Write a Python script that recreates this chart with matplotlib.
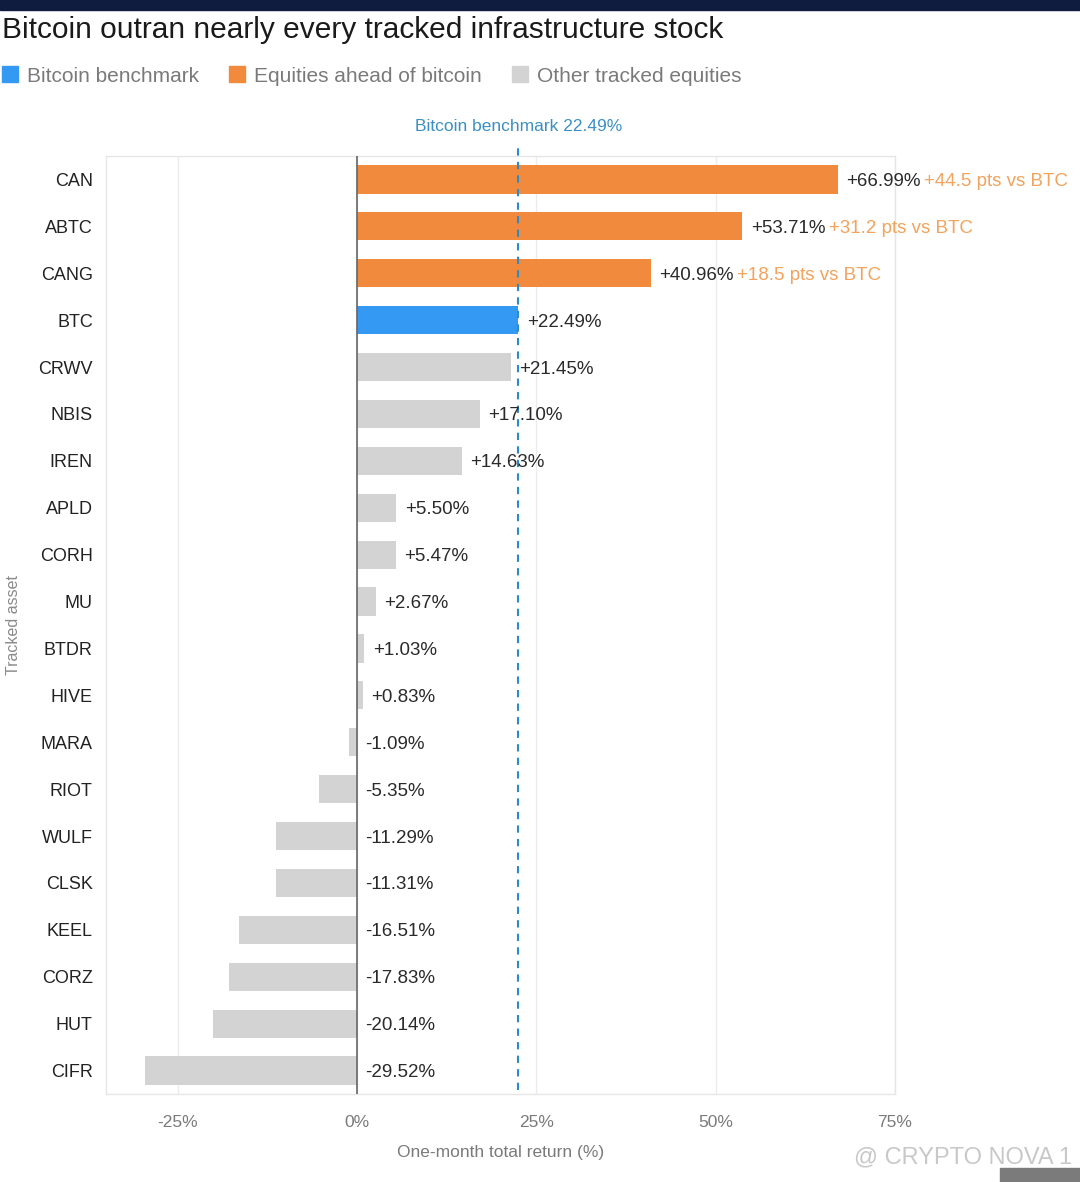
import matplotlib
matplotlib.use("Agg")
import matplotlib.pyplot as plt
from matplotlib.patches import Rectangle

plt.rcParams['font.family'] = ['Liberation Sans', 'DejaVu Sans']

tickers = ["CAN", "ABTC", "CANG", "BTC", "CRWV", "NBIS", "IREN", "APLD", "CORH", "MU",
           "BTDR", "HIVE", "MARA", "RIOT", "WULF", "CLSK", "KEEL", "CORZ", "HUT", "CIFR"]
returns = [66.99, 53.71, 40.96, 22.49, 21.45, 17.10, 14.63, 5.50, 5.47, 2.67,
           1.03, 0.83, -1.09, -5.35, -11.29, -11.31, -16.51, -17.83, -20.14, -29.52]
groups = ["ahead", "ahead", "ahead", "btc"] + ["other"] * 16
vs_btc = ["+44.5 pts vs BTC", "+31.2 pts vs BTC", "+18.5 pts vs BTC"] + [""] * 17
benchmark = 22.49
xticks = [-25, 0, 25, 50, 75]
xtick_labels = ["-25%", "0%", "25%", "50%", "75%"]
legend_labels = ["Bitcoin benchmark", "Equities ahead of bitcoin", "Other tracked equities"]

colors = {"btc": "#3399F2", "ahead": "#F28A3D", "other": "#D3D3D3"}
extra_color = "#F2A35E"

fig = plt.figure(figsize=(10.8, 11.82), dpi=100)
ax = fig.add_axes([106/1080, 1-1094/1182, (895-106)/1080, (1094-156)/1182])

ypos = list(range(len(tickers)))
ax.barh(ypos, returns, height=0.6, color=[colors[g] for g in groups], zorder=2)
ax.set_xlim(-35, 75)
ax.set_ylim(len(tickers)-0.5, -0.5)
ax.set_yticks(ypos)
ax.set_yticklabels(tickers, fontsize=13, color="#222222")
ax.set_xticks(xticks)
ax.set_xticklabels(xtick_labels, fontsize=12.5, color="#7a7a7a")
ax.tick_params(axis='both', length=0)
ax.tick_params(axis='x', pad=15)
ax.tick_params(axis='y', pad=9.5)
for lab in ax.get_yticklabels():
    lab.set_va('center_baseline')
for s in ax.spines.values():
    s.set_color("#e6e6e6")
    s.set_linewidth(1)
ax.grid(axis='x', color="#ececec", linewidth=1, zorder=0)
ax.axvline(0, color="#666666", linewidth=1.2, zorder=3)
ax.axvline(benchmark, ymin=0.004, ymax=1.012, color="#2B8BC9", linestyle=(0, (3.5, 3)),
           linewidth=1.5, zorder=4, clip_on=False)
ax.annotate(f"Bitcoin benchmark {benchmark:.2f}%", xy=(benchmark, 1), xycoords=('data', 'axes fraction'),
            xytext=(0, 22), textcoords='offset points', ha='center', va='center_baseline',
            fontsize=12.5, color="#3C8FC4")

for y, v, extra in zip(ypos, returns, vs_btc):
    xv = max(v, 0)
    label = f"+{v:.2f}%" if v > 0 else f"{v:.2f}%"
    t = ax.annotate(label, xy=(xv, y), xytext=(6, 0), textcoords='offset points',
                    ha='left', va='center_baseline', fontsize=13.5, color="#2a2a2a", zorder=5)
    if extra:
        ax.annotate(extra, xy=(1, 0), xycoords=t, xytext=(2.5, 0), textcoords='offset points',
                    ha='left', va='bottom', fontsize=13.5, color=extra_color, zorder=5)

ax.set_xlabel("One-month total return (%)", fontsize=12.5, color="#7a7a7a", labelpad=11)
fig.text(14/1080, 1-625/1182, "Tracked asset", rotation=90, ha='center', va='center',
         fontsize=11.5, color="#8a8a8a")

fig.text(2/1080, 1-30/1182, "Bitcoin outran nearly every tracked infrastructure stock",
         fontsize=21.5, color="#1a1a1a", ha='left', va='center')

# legend
lx = [2, 229, 512]
for x0, lab, key in zip(lx, legend_labels, ["btc", "ahead", "other"]):
    fig.patches.append(Rectangle((x0/1080, 1-82/1182), 16/1080, 16/1182,
                                 transform=fig.transFigure, color=colors[key]))
    fig.text((x0+25)/1080, 1-74/1182, lab, fontsize=15, color="#7a7a7a", ha='left', va='center_baseline')

# top band and watermark
fig.patches.append(Rectangle((0, 1-10/1182), 1, 10/1182, transform=fig.transFigure, color="#0F1C3F"))
fig.patches.append(Rectangle((1000/1080, 0), 80/1080, 14/1182, transform=fig.transFigure, color="#7b7b7b"))
fig.text(1072/1080, 1-1157/1182, "@ CRYPTO NOVA 1", fontsize=17, color="#c8c8c8", ha='right', va='center')

fig.savefig("out.png", dpi=100, facecolor="white")
